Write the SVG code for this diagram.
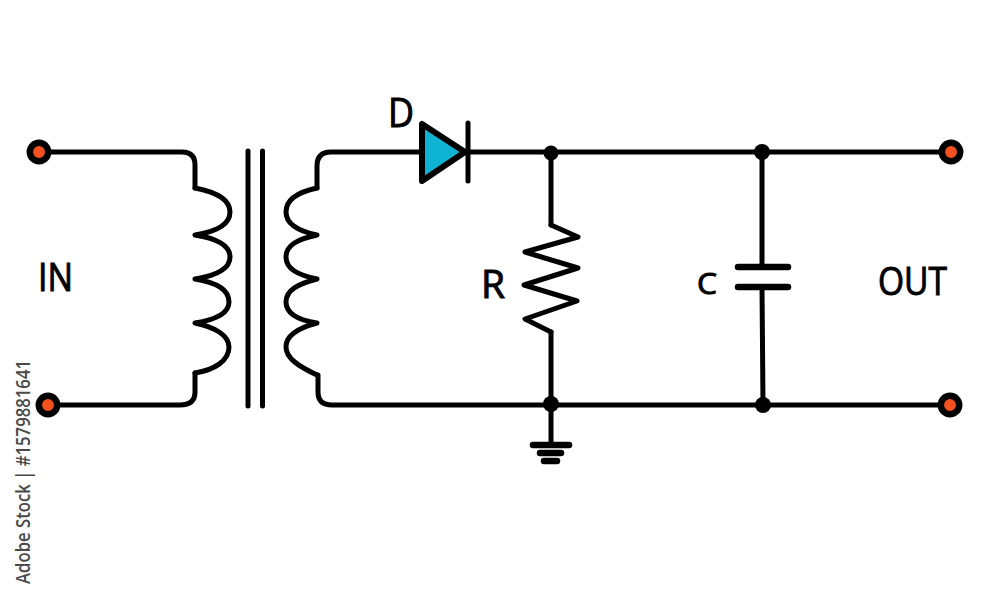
<svg xmlns="http://www.w3.org/2000/svg" width="1000" height="600" viewBox="0 0 1000 600">
<style>
.w{fill:none;stroke:#000;stroke-width:5;stroke-linecap:round;stroke-linejoin:round}
.p{stroke-width:6.500}
.t{font-family:"Open Sans","Liberation Sans",sans-serif;fill:#000;stroke:#000;stroke-width:1;font-weight:400}
.term{fill:#f4511e;stroke:#000;stroke-width:6.500}
.j{fill:#000}
</style>
<rect width="1000" height="600" fill="#fff"/>
<g id="connectors">
<path class="w" d="M39 152H182Q195 152 195 165V188"/>
<path class="w" d="M48 405H180Q195 405 195 392V373"/>
<path class="w" d="M421 152H331Q317 152 317 166V188"/>
<path class="w" d="M950 405H332Q318 405 318 392V375"/>
<path class="w" d="M468 152H951"/>
<path class="w" d="M551 153V225"/>
<path class="w" d="M551 332V445"/>
<path class="w" d="M762 152V267"/>
<path class="w" d="M762 287L763 405"/>
</g>
<g id="primary-coil"><path class="w" d="M195 188C216 192 230 200 230 212C230 226 214 232 195 235C214 238 230 244 230 257C230 270 214 276 195 279C214 282 229 289 229 302C229 314 214 320 195 323C214 327 229 335 229 347C229 361 214 370 195 373"/></g>
<g id="core"><path class="w" d="M248 151V406M262.500 151V406"/></g>
<g id="secondary-coil"><path class="w" d="M317 188C298 192 286 200 286 212C286 224 298 231 317 235C298 239 286 245 286 257C286 269 298 275 317 279C298 284 286 290 286 302C286 314 298 320 317 323C298 328 286 335 286 347C286 358 298 366 317 375"/></g>
<g id="diode">
<path d="M422 124V181L465 152Z" fill="#0fb4d4" stroke="#000" stroke-width="6" stroke-linejoin="round"/>
<path class="w" d="M468 123V181"/>
</g>
<g id="resistor"><path class="w" d="M551 225L578 237L525 252L578 268L524 285L577 301L525 319L551 332"/></g>
<g id="capacitor"><path class="w p" d="M738 267H788M738 287H788"/></g>
<g id="ground"><path class="w p" d="M533 445H569M540 453H561M544 461H557"/></g>
<g id="junctions">
<circle class="j" cx="551" cy="153" r="7.500"/>
<circle class="j" cx="551" cy="404" r="8"/>
<circle class="j" cx="762" cy="152" r="8"/>
<circle class="j" cx="763" cy="405" r="8"/>
</g>
<g id="terminal-in-top"><circle class="term" cx="39" cy="152" r="9.200"/></g>
<g id="terminal-in-bottom"><circle class="term" cx="48" cy="405" r="9.200"/></g>
<g id="terminal-out-top"><circle class="term" cx="951" cy="152" r="9.200"/></g>
<g id="terminal-out-bottom"><circle class="term" cx="950" cy="405" r="9.200"/></g>
<g id="labels">
<text class="t" x="38" y="291" font-size="39" textLength="35" lengthAdjust="spacingAndGlyphs">IN</text>
<text class="t" x="388" y="127" font-size="41" textLength="26" lengthAdjust="spacingAndGlyphs">D</text>
<text class="t" x="481" y="298" font-size="39" textLength="24" lengthAdjust="spacingAndGlyphs">R</text>
<text class="t" x="697" y="294" font-size="30" textLength="20" lengthAdjust="spacingAndGlyphs">C</text>
<text class="t" x="878" y="295" font-size="38" textLength="69" lengthAdjust="spacingAndGlyphs">OUT</text>
<text x="29.500" y="584" transform="rotate(-90 29.500 584)" font-family="'Open Sans','Liberation Sans',sans-serif" font-size="20" font-weight="600" fill="#4a4a4a" textLength="224" lengthAdjust="spacingAndGlyphs">Adobe Stock | #1579881641</text>
</g>
</svg>
